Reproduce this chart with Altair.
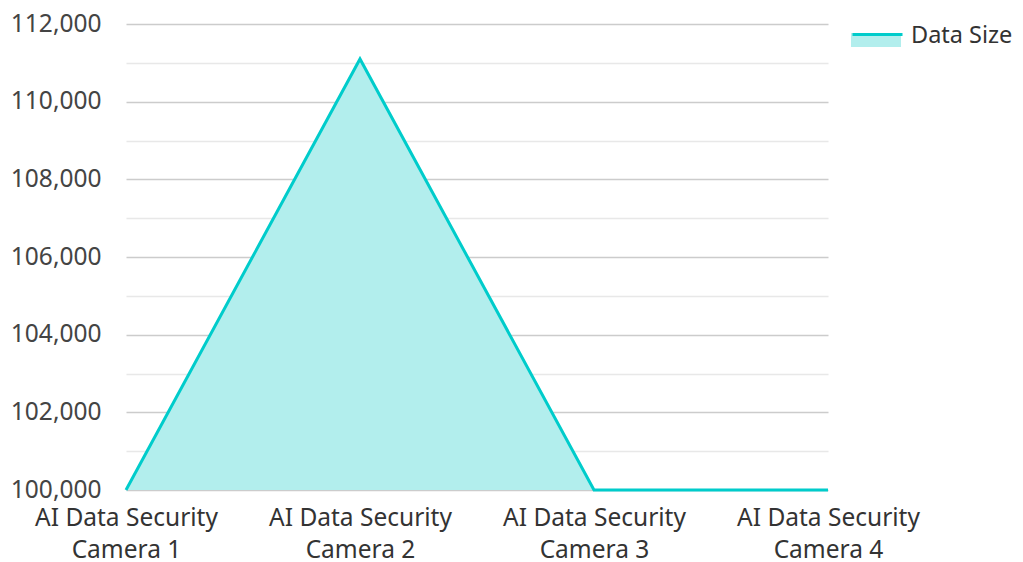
import altair as alt
import pandas as pd

categories = ["AI Data Security Camera 1", "AI Data Security Camera 2",
              "AI Data Security Camera 3", "AI Data Security Camera 4"]
values = [100000, 111100, 100000, 100000]
series = "Data Size"

df = pd.DataFrame({"camera": categories, "value": values, "series": [series] * len(categories)})

FONT = "Noto Sans"
FS = 24.5
LINE = "#00cccb"
FILL = "#b2eeed"

x = alt.X("camera:N", sort=categories, title=None,
          scale=alt.Scale(type="point", padding=0),
          axis=alt.Axis(labelAngle=0, grid=False, ticks=False, domain=False,
                        labelFont=FONT, labelFontSize=FS, labelColor="#333333",
                        labelLineHeight=32, labelPadding=16, labelLimit=400,
                        labelExpr="[slice(datum.label, 0, 16), slice(datum.label, 17)]"))
y = alt.Y("value:Q", title=None,
          scale=alt.Scale(domain=[100000, 112000], zero=False, nice=False),
          axis=alt.Axis(values=list(range(100000, 112001, 1000)), ticks=False, domain=False,
                        labelFont=FONT, labelFontSize=FS, labelColor="#444444", labelPadding=25,
                        labelExpr="datum.value % 2000 === 0 ? format(datum.value, ',') : ''",
                        gridColor={"condition": {"test": "datum.value % 2000 === 0", "value": "#cccccc"},
                                   "value": "#e8e8e8"},
                        gridWidth=1.5))

LEG = dict(orient="none", legendX=725, legendY=-15, symbolSize=2500,
           labelFont=FONT, labelFontSize=23.5, labelColor="#333333", labelOffset=7, labelLimit=300)

area = alt.Chart(df).mark_area(clip=True, opacity=1).encode(
    x=x, y=y,
    fill=alt.Fill("series:N", title=None,
                  scale=alt.Scale(domain=[series], range=[FILL]),
                  legend=alt.Legend(symbolType="M-1,-0.04 L1,-0.04 L1,0.52 L-1,0.52 Z",
                                    symbolStrokeWidth=0, labelOpacity=0, **LEG)),
)
line = alt.Chart(df).mark_line(strokeWidth=3).encode(
    x=x, y=y,
    stroke=alt.Stroke("series:N", title=None,
                      scale=alt.Scale(domain=[series], range=[LINE]),
                      legend=alt.Legend(symbolType="M-1,-0.04 L1,-0.04",
                                        symbolStrokeWidth=3, **LEG)),
)

chart = alt.layer(area, line).resolve_scale(fill="independent", stroke="independent").resolve_legend(
    fill="independent", stroke="independent"
).properties(
    width=702, height=466,
    padding={"left": 118, "top": 16, "right": 187, "bottom": 70},
    autosize=alt.AutoSizeParams(type="none"),
).configure_view(stroke=None)

chart.save("out.html", embed_options={"renderer": "svg", "actions": False})
